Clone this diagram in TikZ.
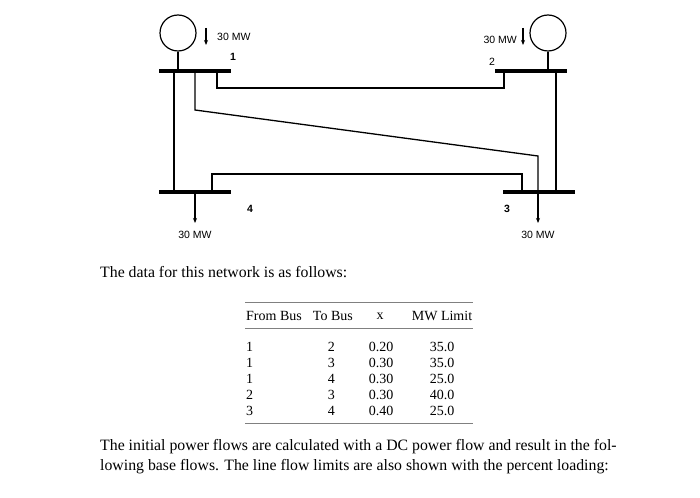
\documentclass[tikz,border=0pt]{standalone}
\usepackage{fontspec}
\setmainfont{Liberation Serif}
\newfontfamily\lab{Liberation Sans}
\usetikzlibrary{arrows.meta}
\begin{document}
\begin{tikzpicture}[x=1pt,y=-1pt,
  bus/.style={line width=4pt},
  ln/.style={line width=1.3pt},
  gen/.style={circle,draw,line width=1.2pt,minimum size=36pt,inner sep=0pt},
  lbl/.style={font=\lab\fontsize{10.5}{11}\selectfont},
  blbl/.style={font=\lab\bfseries\fontsize{10.5}{11}\selectfont},
  txt/.style={font=\fontsize{15.8}{18}\selectfont,anchor=west,inner sep=0pt},
  cell/.style={font=\fontsize{14}{16}\selectfont,inner sep=0pt},
  ar/.style={-{Stealth[length=5pt,width=4pt]},line width=1.2pt}]
\useasboundingbox (0,0) rectangle (700,497);
% buses
\coordinate (b1l) at (159,71); \coordinate (b1r) at (231,71);
\coordinate (b2l) at (495,71); \coordinate (b2r) at (567,71);
\coordinate (b4l) at (159,192); \coordinate (b4r) at (231,192);
\coordinate (b3l) at (503,192); \coordinate (b3r) at (575,192);
\draw[bus] (b1l) -- (b1r);
\draw[bus] (b2l) -- (b2r);
\draw[bus] (b4l) -- (b4r);
\draw[bus] (b3l) -- (b3r);
% generators
\node[gen] (g1) at (178,33) {};
\node[gen] (g2) at (548,33) {};
\draw[ln] (g1.south) -- (178,71);
\draw[ln] (g2.south) -- (548,71);
% lines
\draw[ln] (217,71) -- (217,88) -- (504,88) -- (504,71);
\draw[ln] (174,71) -- (174,192);
\draw[ln] (195,71) -- (195,110) -- (538,156) -- (538,192);
\draw[ln] (556,71) -- (556,192);
\draw[ln] (212,192) -- (212,174) -- (522,174) -- (522,192);
% injections
\coordinate (a1s) at (206,28); \coordinate (a1e) at (206,45);
\draw[ar] (a1s) -- (a1e);
\coordinate (a2s) at (523,28); \coordinate (a2e) at (523,45);
\draw[ar] (a2s) -- (a2e);
\coordinate (l4e) at (195,223);
\draw[ar] (195,192) -- (l4e);
\coordinate (l3e) at (538,223);
\draw[ar] (538,192) -- (l3e);
\node[lbl,anchor=west,inner sep=0pt] (t1) at (217,37) {30 MW};
\node[lbl,anchor=east,inner sep=0pt] (t2) at (517,40) {30 MW};
\node[lbl] (t4) at (195,235) {30 MW};
\node[lbl] (t3) at (538,235) {30 MW};
\node[blbl] (n1) at (233,57) {1};
\node[lbl] (n2) at (492,62) {2};
\node[blbl] (n3) at (507,209) {3};
\node[blbl] (n4) at (250,209) {4};
% text
\node[txt] (p1) at (100,272) {The data for this network is as follows:};
% table
\draw[line width=0.8pt,gray] (245,302) -- (473,302);
\draw[line width=0.5pt,gray] (245,328) -- (473,328);
\draw[line width=0.8pt,gray] (245,423) -- (473,423);
\node[cell,anchor=west] (h1) at (246,316) {From Bus};
\node[cell,anchor=east] (h2) at (353,316) {To Bus};
\node[cell] (h3) at (380,316) {x};
\node[cell] (h4) at (442,316) {MW Limit};
\foreach \f/\t/\x/\m [count=\i] in {1/2/0.20/35.0,1/3/0.30/35.0,1/4/0.30/25.0,2/3/0.30/40.0,3/4/0.40/25.0}{
  \node[cell,anchor=west] at (246,331+16*\i) {\f};
  \node[cell,anchor=east] at (335,331+16*\i) {\t};
  \node[cell] at (381,331+16*\i) {\x};
  \node[cell] at (442,331+16*\i) {\m};
}
\node[txt] (p2) at (100,447) {The initial power flows are calculated with a DC power flow and result in the fol-};
\node[txt] (p3) at (100,467) {lowing base flows. The line flow limits are also shown with the percent loading:};
\end{tikzpicture}
\end{document}
